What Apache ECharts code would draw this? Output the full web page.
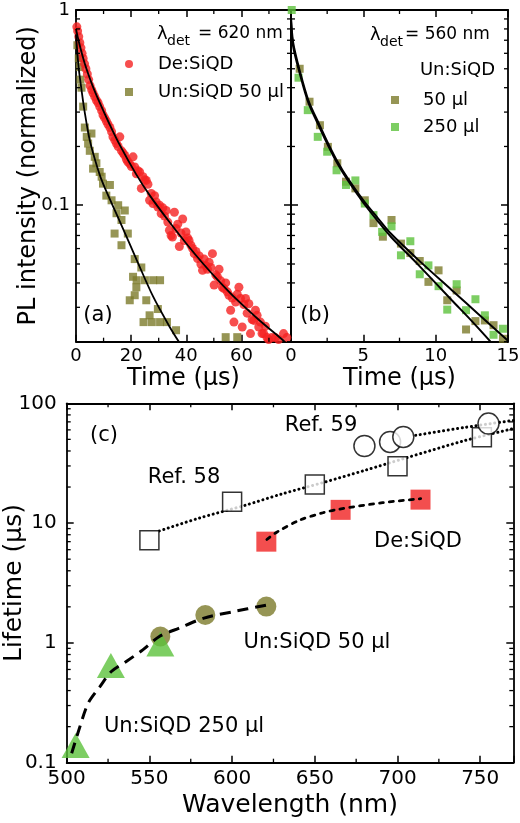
<!DOCTYPE html>
<html><head><meta charset="utf-8">
<script src="https://cdn.jsdelivr.net/npm/echarts@6/dist/echarts.min.js"></script>
<style>html,body{margin:0;padding:0;background:#fff}#c{width:520px;height:823px}</style>
</head><body><div id="c"></div>
<script>
// ---------- Panel (a): PL decay at 620 nm ----------
const deTime = [0.3,0.6,1.0,1.4,1.8,2.2,2.6,3.1,3.6,4.1,4.6,5.1,5.7,6.2,6.8,7.4,8.0,8.6,9.3,9.8,10.4,11.0,11.6,12.3,12.9,13.4,14.1,14.7,15.3,15.9,16.5,17.1,17.7,18.3,18.8,19.5,20.1,20.7,21.3,21.9,22.5,23.1,23.7,24.3,24.9,25.5,26.1,26.7,27.3,27.9,28.5,29.1,29.7,30.3,30.9,31.5,32.1,32.7,33.3,33.9,34.5,35.0,35.7,36.3,36.9,37.5,38.1,38.7,39.3,39.9,40.5,41.0,41.7,42.3,42.9,43.5,44.1,44.7,45.3,45.9,46.5,47.1,47.7,48.3,48.9,49.5,50.1,50.7,51.3,51.9,52.5,53.1,53.7,54.3,54.9,55.5,56.1,56.7,57.3,57.9,58.5,59.1,59.7,60.3,60.9,61.5,62.1,62.7,63.3,63.9,64.5,65.1,65.7,66.3,66.9,67.5,68.1,68.7,69.3,69.9,71.0,72.3,73.5,75.3,76.5];
const deIntensity = [0.82,0.78,0.73,0.68,0.64,0.60,0.565,0.53,0.50,0.47,0.44,0.41,0.39,0.375,0.36,0.345,0.335,0.32,0.305,0.29,0.28,0.27,0.26,0.25,0.238,0.224,0.215,0.207,0.2,0.224,0.19,0.185,0.18,0.172,0.167,0.163,0.158,0.177,0.157,0.145,0.15,0.148,0.122,0.14,0.135,0.134,0.128,0.106,0.115,0.102,0.112,0.104,0.098,0.1,0.0906,0.097,0.088,0.094,0.082,0.0745,0.070,0.0688,0.092,0.076,0.08,0.0615,0.072,0.085,0.066,0.073,0.068,0.066,0.0624,0.06,0.0565,0.058,0.0533,0.055,0.050,0.0464,0.053,0.049,0.047,0.051,0.048,0.0565,0.039,0.044,0.043,0.047,0.041,0.038,0.0374,0.04,0.036,0.0346,0.029,0.0335,0.0252,0.0319,0.035,0.038,0.0333,0.0238,0.031,0.0333,0.028,0.0313,0.022,0.026,0.0257,0.029,0.0273,0.0238,0.0252,0.022,0.022,0.024,0.021,0.0205,0.021,0.021,0.0205,0.022,0.021];
const unTime = [0.5,1.0,1.4,1.6,2.0,2.6,3.2,3.9,4.4,5.0,5.6,6.2,6.8,7.4,8.6,9.3,9.8,11.0,12.3,12.9,14.0,14.7,15.3,16.5,16.5,17.7,18.8,19.5,20.7,21.3,21.3,21.9,22.0,23.7,24.5,25.0,25.5,26.7,27.5,28.0,29.7,30.5,30.5,33.0,36.3,54.3,58.5];
const unIntensity = [0.66,0.565,0.51,0.44,0.40,0.32,0.25,0.224,0.207,0.19,0.233,0.154,0.177,0.164,0.148,0.14,0.129,0.112,0.127,0.106,0.0716,0.091,0.1,0.084,0.0624,0.094,0.0716,0.0326,0.043,0.053,0.0346,0.038,0.0413,0.048,0.0252,0.0413,0.0326,0.0273,0.0252,0.0413,0.0294,0.0252,0.0413,0.0252,0.0229,0.0211,0.0211];
const deFitTime = [0,1,3.2,6,8.6,12,15.9,21.9,27,33.9,40,45.9,52,57.9,66.3,74.5,76];
const deFitIntensity = [0.8,0.69,0.531,0.41,0.335,0.263,0.203,0.1435,0.111,0.082,0.0637,0.0506,0.0406,0.0333,0.0259,0.0207,0.0198];
const unFitTime = [0,0.5,1,2,3,5,8,10,16,22,28,34,37.5];
const unFitIntensity = [0.75,0.6,0.5,0.39,0.31,0.215,0.152,0.127,0.082,0.0525,0.034,0.0238,0.0198];

// ---------- Panel (b): PL decay at 560 nm ----------
const b50Time = [0.6,1.28,2.0,2.55,3.2,3.8,4.45,5.1,5.7,6.35,6.95,7.6,8.25,8.9,9.5,10.2,10.8,11.45,12.1,12.75,13.4,14.0,14.65];
const b50Intensity = [0.50,0.339,0.257,0.199,0.164,0.132,0.122,0.106,0.081,0.069,0.084,0.0636,0.0569,0.0518,0.0405,0.0464,0.0326,0.0366,0.0231,0.0255,0.0257,0.0243,0.0207];
const b250Time = [0.05,0.52,1.16,1.85,2.5,3.15,3.8,4.45,5.1,5.7,6.3,6.95,7.6,8.25,8.9,9.5,10.2,10.8,11.45,12.1,12.75,13.4,14.0,14.65];
const b250Intensity = [1.0,0.45,0.307,0.224,0.188,0.151,0.127,0.134,0.102,0.089,0.073,0.078,0.0554,0.0654,0.0443,0.0492,0.0385,0.0292,0.0394,0.029,0.033,0.0273,0.0217,0.0233];
const bFitATime = [0,0.15,0.6,1.2,2.0,2.6,3.2,3.9,5.0,6.0,6.9,8.8,11.1,13,15];
const bFitAIntensity = [0.92,0.68,0.49,0.345,0.255,0.205,0.168,0.138,0.106,0.086,0.0716,0.0525,0.0368,0.0275,0.0202];
const bFitBTime = [0,0.15,0.6,1.2,2.0,2.6,3.2,3.9,5.0,6.0,6.9,8.8,11.1,12.5,13.85];
const bFitBIntensity = [0.88,0.65,0.475,0.335,0.248,0.2,0.164,0.135,0.103,0.083,0.069,0.0495,0.0327,0.0255,0.0198];

// ---------- Panel (c): lifetime vs wavelength ----------
const ref58Wl = [550,600,650,700,751];
const ref58Tau = [7.2,15.1,21,29.8,52];
const ref59Wl = [680,695.5,703.5,755];
const ref59Tau = [44,47.6,52.4,67.7];
const deWl = [620.7,665.6,713.9];
const deTau = [7.0,12.9,15.7];
const un50Wl = [556.6,583.8,620.7];
const un50Tau = [1.13,1.71,2.01];
const un250Wl = [505.4,526.7,556.6];
const un250Tau = [0.139,0.647,0.98];
const ref58FitWl = [556,580,608,630,656,680,704,741,770];
const ref58FitTau = [8.6,11,14.1,17.5,22,27.5,34.6,49,61.5];
const ref59FitWl = [711,741,770];
const ref59FitTau = [54,63,72];
const deFitWl = [621,627,641,655,665,691,714];
const deFitTau = [7.3,8.4,10.6,12.2,13.1,14.8,16];
const unFitWl = [503,508,513,520,527,536,546,556,568,583,600.5,621];
const unFitTau = [0.12,0.2,0.314,0.43,0.577,0.70,0.875,1.13,1.33,1.61,1.82,2.07];

// ---------- Tick values ----------
const aXLabels = [0,20,40,60], aXMinor = [10,30,50,70];
const bXLabels = [0,5,10,15], bXMinor = [2.5,7.5,12.5];
const cXLabels = [500,550,600,650,700,750], cXMinor = [525,575,625,675,725];
const abYMinor = [0.02,0.03,0.04,0.05,0.06,0.07,0.08,0.09,0.2,0.3,0.4,0.5,0.6,0.7,0.8,0.9];
const cYMinor = [0.2,0.3,0.4,0.5,0.6,0.7,0.8,0.9,2,3,4,5,6,7,8,9,20,30,40,50,60,70,80,90];

const FONT = 'DejaVu Sans';
const RED = '#f52222', OLIVE = '#7c7a2a', GREEN = '#5cc23c';
const zip = (xs, ys) => xs.map((x, i) => [x, ys[i]]);
const frame = {color:'#000', width:1.8};

function decadeLabel(v) {
  const l = Math.log10(v);
  return Math.abs(l - Math.round(l)) < 1e-6 ? String(+v.toPrecision(6)) : '';
}
function xAxisCfg(o) {
  return {
    type:'value', gridIndex:o.grid, min:o.min, max:o.max, interval:o.interval, position:o.pos,
    axisLine:{show:true, onZero:false, lineStyle:frame},
    axisTick:{show:true, inside:true, length:7, lineStyle:{color:'#000', width:1.5}},
    splitLine:{show:false},
    axisLabel: o.labels ? {show:true, formatter: v => o.labels.includes(Math.round(v*1000)/1000) ? String(Math.round(v*1000)/1000) : '',
      fontSize:o.fs, margin:o.margin, color:'#000', fontFamily:FONT} : {show:false},
    name:o.name || '', nameLocation:'middle', nameGap:o.nameGap || 0, nameMoveOverlap:false,
    nameTextStyle:{fontSize:o.nameFs || 12, color:'#000', fontFamily:FONT, verticalAlign:'middle'}
  };
}
function yAxisCfg(o) {
  return {
    type:'log', logBase:10, gridIndex:o.grid, min:o.min, max:o.max, position:o.pos,
    axisLine:{show:true, onZero:false, lineStyle:frame},
    axisTick:{show:true, inside:true, length:7, lineStyle:{color:'#000', width:1.5}},
    splitLine:{show:false}, minorTick:{show:false},
    axisLabel: o.labels ? {show:true, formatter:decadeLabel, fontSize:o.fs, margin:o.margin, color:'#000', fontFamily:FONT} : {show:false},
    name:o.name || '', nameLocation:'middle', nameGap:o.nameGap || 0, nameMoveOverlap:false,
    nameTextStyle:{fontSize:o.nameFs || 12, color:'#000', fontFamily:FONT, verticalAlign:'middle', align:'center'}
  };
}
function minorTicks(xi, yi, dir, values, other) {
  return {
    type:'custom', xAxisIndex:xi, yAxisIndex:yi, silent:true, z:10, clip:false,
    data: values.map(v => dir === 'y' ? [other, v] : [v, other]),
    renderItem: (params, api) => {
      const cs = params.coordSys;
      const p = api.coord([api.value(0), api.value(1)]);
      const L = 4, st = {stroke:'#000', lineWidth:1.3};
      const segs = dir === 'y'
        ? [[cs.x, p[1], cs.x + L, p[1]], [cs.x + cs.width, p[1], cs.x + cs.width - L, p[1]]]
        : [[p[0], cs.y + cs.height, p[0], cs.y + cs.height - L], [p[0], cs.y, p[0], cs.y + L]];
      return {type:'group', children: segs.map(s => ({type:'line', shape:{x1:s[0], y1:s[1], x2:s[2], y2:s[3]}, style:st}))};
    }
  };
}
function txt(text, x, y, size, align, vAlign) {
  return {type:'text', x:x, y:y, z:20, style:{text:text, fontSize:size, fontFamily:FONT, fill:'#000',
    align:align || 'left', verticalAlign:vAlign || 'middle', textAlign:align || 'left', textVerticalAlign:vAlign || 'middle'}};
}
const fitLine = (name, xi, data, extra) => Object.assign({name:name, type:'line', xAxisIndex:xi, yAxisIndex:xi,
  smooth:0.3, showSymbol:false, silent:true, lineStyle:{color:'#000', width:1.8}, data:data, z:3}, extra || {});

const chart = echarts.init(document.getElementById('c'), null, {renderer:'canvas'});
chart.setOption({
  animation:false,
  backgroundColor:'#fff',
  textStyle:{fontFamily:FONT},
  grid:[
    {left:76, top:10, width:215, height:331.7, containLabel:false, outerBoundsMode:'none'},
    {left:291, top:10, width:217, height:331.7, containLabel:false, outerBoundsMode:'none'},
    {left:66.7, top:403.3, width:446.6, height:359.4, containLabel:false, outerBoundsMode:'none'}
  ],
  xAxis:[
    xAxisCfg({grid:0, min:0, max:78, interval:20, pos:'bottom', labels:aXLabels, fs:18, margin:6, name:'Time (μs)', nameGap:37, nameFs:24}),
    xAxisCfg({grid:0, min:0, max:78, interval:20, pos:'top'}),
    xAxisCfg({grid:1, min:0, max:15, interval:5, pos:'bottom', labels:bXLabels, fs:18, margin:6, name:'Time (μs)', nameGap:37, nameFs:24}),
    xAxisCfg({grid:1, min:0, max:15, interval:5, pos:'top'}),
    xAxisCfg({grid:2, min:500, max:770, interval:50, pos:'bottom', labels:cXLabels, fs:20, margin:6, name:'Wavelength (nm)', nameGap:43, nameFs:25}),
    xAxisCfg({grid:2, min:500, max:770, interval:50, pos:'top'})
  ],
  yAxis:[
    yAxisCfg({grid:0, min:0.02, max:1, pos:'left', labels:true, fs:18, margin:6, name:'PL intensity (normalized)', nameGap:47, nameFs:24}),
    yAxisCfg({grid:0, min:0.02, max:1, pos:'right'}),
    yAxisCfg({grid:1, min:0.02, max:1, pos:'left'}),
    yAxisCfg({grid:1, min:0.02, max:1, pos:'right'}),
    yAxisCfg({grid:2, min:0.1, max:100, pos:'left', labels:true, fs:20, margin:10, name:'Lifetime (μs)', nameGap:52, nameFs:25}),
    yAxisCfg({grid:2, min:0.1, max:100, pos:'right'})
  ],
  legend:[
    {data:['De:SiQD','Un:SiQD 50 μl'], orient:'vertical', left:120, top:50, itemWidth:8, itemHeight:8, itemGap:10,
     selectedMode:false, textStyle:{fontSize:18, color:'#000', fontFamily:FONT, padding:[0,0,0,20]}},
    {data:['50 μl','250 μl'], orient:'vertical', left:386, top:86, itemWidth:8, itemHeight:8, itemGap:9,
     selectedMode:false, textStyle:{fontSize:18, color:'#000', fontFamily:FONT, padding:[0,0,0,19]}}
  ],
  series:[
    // panel (a)
    {name:'Un:SiQD 50 μl', type:'scatter', xAxisIndex:0, yAxisIndex:0, symbol:'rect', symbolSize:8, itemStyle:{color:OLIVE}, data:zip(unTime, unIntensity), z:2},
    {name:'De:SiQD', type:'scatter', xAxisIndex:0, yAxisIndex:0, symbol:'circle', symbolSize:9, itemStyle:{color:RED}, data:zip(deTime, deIntensity), z:2},
    fitLine('fitA1', 0, zip(deFitTime, deFitIntensity)),
    fitLine('fitA2', 0, zip(unFitTime, unFitIntensity)),
    minorTicks(0, 0, 'y', abYMinor, 0),
    minorTicks(0, 0, 'x', aXMinor, 0.02),
    // panel (b)
    {name:'50 μl', type:'scatter', xAxisIndex:2, yAxisIndex:2, symbol:'rect', symbolSize:8, itemStyle:{color:OLIVE}, data:zip(b50Time, b50Intensity), z:2},
    {name:'250 μl', type:'scatter', xAxisIndex:2, yAxisIndex:2, symbol:'rect', symbolSize:8, itemStyle:{color:GREEN}, data:zip(b250Time, b250Intensity), z:2},
    fitLine('fitB1', 2, zip(bFitATime, bFitAIntensity), {lineStyle:{color:'#000', width:2}}),
    fitLine('fitB2', 2, zip(bFitBTime, bFitBIntensity), {lineStyle:{color:'#000', width:2}}),
    minorTicks(2, 2, 'y', abYMinor, 0),
    minorTicks(2, 2, 'x', bXMinor, 0.02),
    // panel (c)
    fitLine('ref58fit', 4, zip(ref58FitWl, ref58FitTau), {z:2, lineStyle:{color:'#000', width:3, type:[0.1,4.6], cap:'round'}}),
    fitLine('ref59fit', 4, zip(ref59FitWl, ref59FitTau), {z:2, lineStyle:{color:'#000', width:3, type:[0.1,4.6], cap:'round'}}),
    {name:'Ref. 58', type:'scatter', xAxisIndex:4, yAxisIndex:4, symbol:'rect', symbolSize:19, itemStyle:{color:'#fff', borderColor:'#000', borderWidth:1.5}, data:zip(ref58Wl, ref58Tau), z:3},
    {name:'Ref. 59', type:'scatter', xAxisIndex:4, yAxisIndex:4, symbol:'circle', symbolSize:21, itemStyle:{color:'#fff', borderColor:'#000', borderWidth:1.5}, data:zip(ref59Wl, ref59Tau), z:3},
    {name:'De:SiQD τ', type:'scatter', xAxisIndex:4, yAxisIndex:4, symbol:'rect', symbolSize:20, itemStyle:{color:'#f02222'}, data:zip(deWl, deTau), z:3},
    {name:'Un:SiQD 50 μl τ', type:'scatter', xAxisIndex:4, yAxisIndex:4, symbol:'circle', symbolSize:20, itemStyle:{color:OLIVE}, data:zip(un50Wl, un50Tau), z:3},
    {name:'Un:SiQD 250 μl τ', type:'scatter', xAxisIndex:4, yAxisIndex:4, symbol:'triangle', symbolSize:[28,25], itemStyle:{color:GREEN}, data:zip(un250Wl, un250Tau), z:3},
    fitLine('defit', 4, zip(deFitWl, deFitTau), {z:4, lineStyle:{color:'#000', width:2.8, type:[4,6], cap:'round'}}),
    fitLine('unfit', 4, zip(unFitWl, unFitTau), {z:4, lineStyle:{color:'#000', width:3, type:[11,7]}}),
    minorTicks(4, 4, 'y', cYMinor, 500),
    minorTicks(4, 4, 'x', cXMinor, 0.1)
  ],
  graphic:[
    txt('λ', 157, 34, 18), txt('det', 167, 41, 14), txt('= 620 nm', 198, 34, 17),
    txt('(a)', 98, 316, 21, 'center'),
    txt('λ', 370, 35, 18), txt('det', 380, 42, 14), txt('= 560 nm', 405, 35, 17),
    txt('Un:SiQD', 495, 70, 18, 'right'),
    txt('(b)', 315, 316, 21, 'center'),
    txt('(c)', 104, 436, 21, 'center'),
    txt('Ref. 59', 321, 426, 21, 'center'),
    txt('Ref. 58', 184, 478, 21, 'center'),
    txt('De:SiQD', 418, 542, 21, 'center'),
    txt('Un:SiQD 50 μl', 317, 643, 21, 'center'),
    txt('Un:SiQD 250 μl', 184, 727, 21, 'center')
  ]
});
</script>
</body></html>
